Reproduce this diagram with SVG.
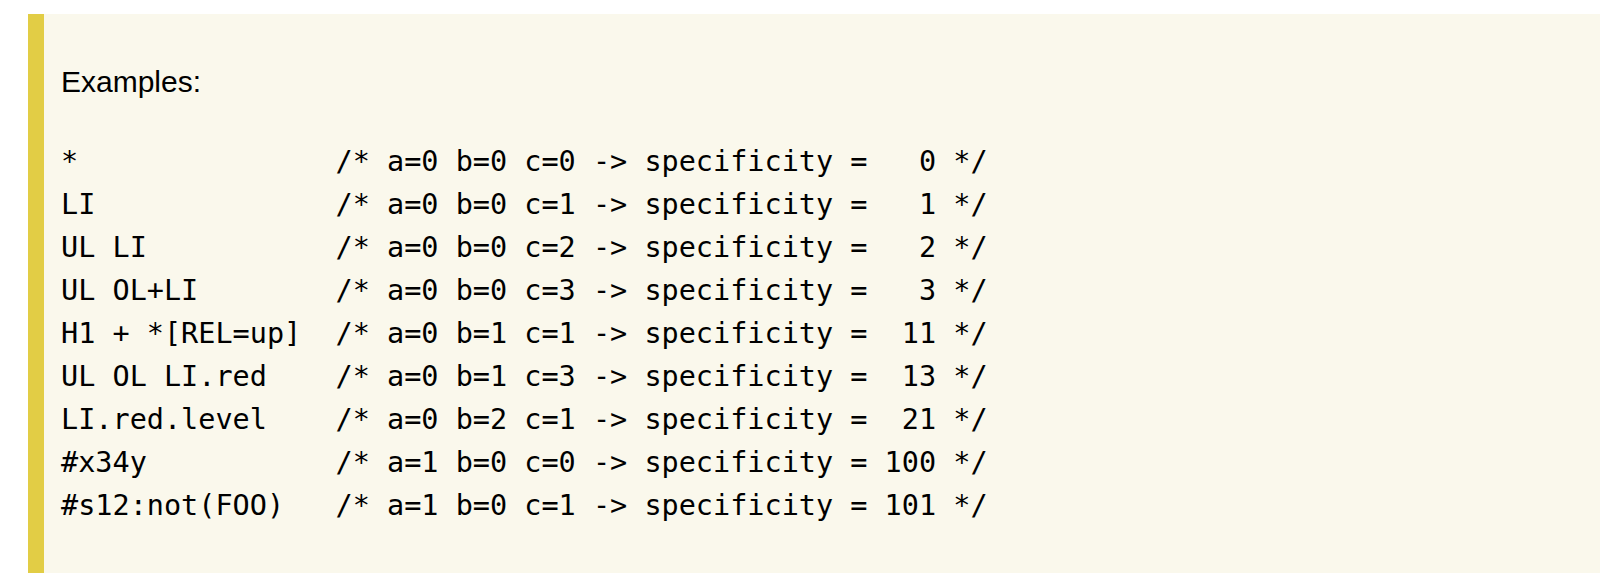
<svg xmlns="http://www.w3.org/2000/svg" width="1600" height="588" viewBox="0 0 1600 588">
<style>
.m text{font-family:"DejaVu Sans Mono",monospace;font-size:28.5px;fill:#000;white-space:pre}
.s{font-family:"Liberation Sans",Arial,sans-serif;font-size:30px;fill:#000}
</style>
<rect x="0" y="0" width="1600" height="588" fill="#fff"/>
<rect x="28" y="14" width="1572" height="559" fill="#faf8ec"/>
<rect x="28" y="14" width="16" height="559" fill="#e2cd45"/>
<text class="s" x="61" y="92">Examples:</text>
<g class="m">
<text xml:space="preserve" x="61" y="171">*               /* a=0 b=0 c=0 -&gt; specificity =   0 */</text>
<text xml:space="preserve" x="61" y="214">LI              /* a=0 b=0 c=1 -&gt; specificity =   1 */</text>
<text xml:space="preserve" x="61" y="257">UL LI           /* a=0 b=0 c=2 -&gt; specificity =   2 */</text>
<text xml:space="preserve" x="61" y="300">UL OL+LI        /* a=0 b=0 c=3 -&gt; specificity =   3 */</text>
<text xml:space="preserve" x="61" y="343">H1 + *[REL=up]  /* a=0 b=1 c=1 -&gt; specificity =  11 */</text>
<text xml:space="preserve" x="61" y="386">UL OL LI.red    /* a=0 b=1 c=3 -&gt; specificity =  13 */</text>
<text xml:space="preserve" x="61" y="429">LI.red.level    /* a=0 b=2 c=1 -&gt; specificity =  21 */</text>
<text xml:space="preserve" x="61" y="472">#x34y           /* a=1 b=0 c=0 -&gt; specificity = 100 */</text>
<text xml:space="preserve" x="61" y="515">#s12:not(FOO)   /* a=1 b=0 c=1 -&gt; specificity = 101 */</text>
</g>
</svg>
